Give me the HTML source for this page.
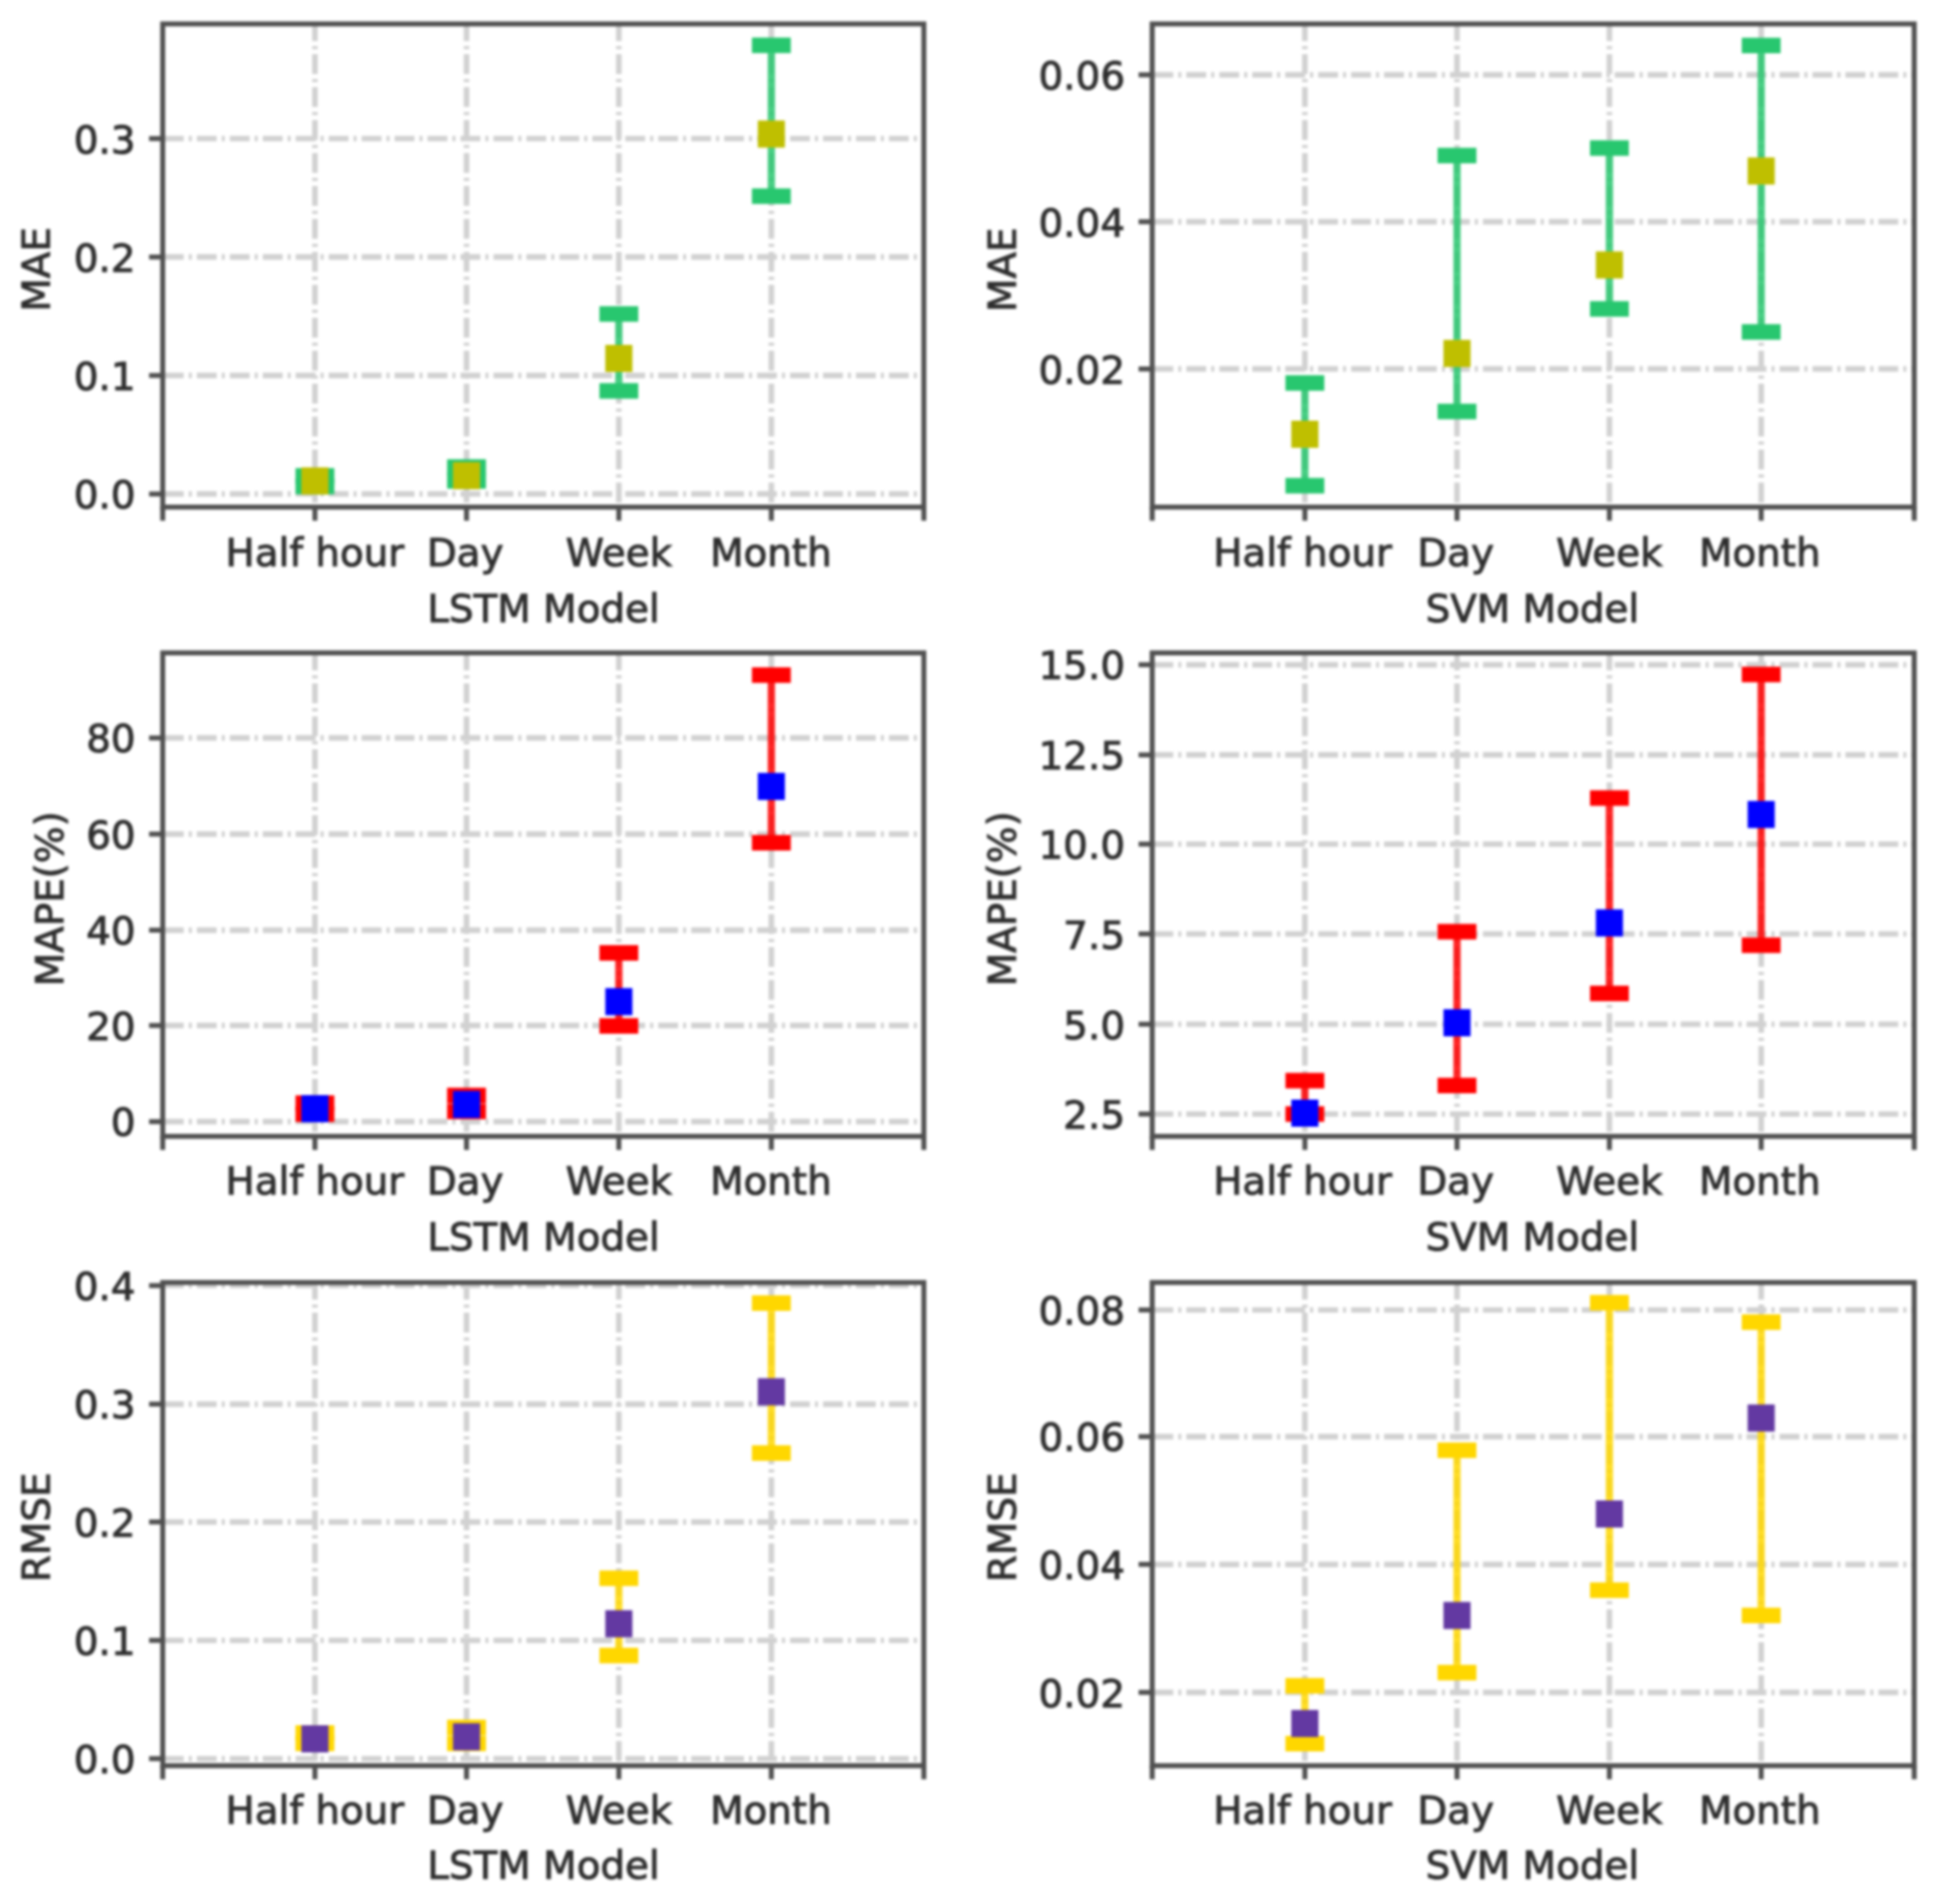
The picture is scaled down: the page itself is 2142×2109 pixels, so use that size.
<!DOCTYPE html>
<html lang="en"><head><meta charset="utf-8"><title>Model error comparison</title>
<style>
html,body{margin:0;padding:0;background:#fff}
body{width:2142px;height:2109px;overflow:hidden}
svg{display:block;filter:blur(1.6px)}
text{font-family:"DejaVu Sans","Liberation Sans",sans-serif;font-size:43.0px;fill:#2e2e2e;stroke:#2e2e2e;stroke-width:1.0}
.sp{stroke:#505050;stroke-width:5.5;fill:none;stroke-linecap:square}
.tk{stroke:#505050;stroke-width:5.5;stroke-linecap:butt}
.gr{stroke:#d1d1d1;stroke-width:6.2;stroke-dasharray:22.04 5.51 3.44 5.51;fill:none}
</style></head><body>
<svg width="2142" height="2109" viewBox="0 0 2142 2109">
<rect width="2142" height="2109" fill="#fff"/>
<g>
<path class="gr" stroke-dashoffset="-5.2" d="M348.8 561.7V26.5"/>
<path class="gr" stroke-dashoffset="-5.2" d="M516.7 561.7V26.5"/>
<path class="gr" stroke-dashoffset="-5.2" d="M685.4 561.7V26.5"/>
<path class="gr" stroke-dashoffset="-5.2" d="M854.3 561.7V26.5"/>
<path class="gr" stroke-dashoffset="-1.3" d="M180.2 547.2H1023.2"/>
<path class="gr" stroke-dashoffset="-1.3" d="M180.2 415.9H1023.2"/>
<path class="gr" stroke-dashoffset="-1.3" d="M180.2 284.7H1023.2"/>
<path class="gr" stroke-dashoffset="-1.3" d="M180.2 153.5H1023.2"/>
<path d="M348.8 527.1V538.9" stroke="#28c76f" stroke-width="8.0" stroke-opacity="0.85"/>
<rect x="327.3" y="518.5" width="43.0" height="17.2" fill="#28c76f"/>
<rect x="327.3" y="530.3" width="43.0" height="17.2" fill="#28c76f"/>
<rect x="333.8" y="517.7" width="30.0" height="30.0" fill="#bfbf00"/>
<path d="M516.7 517.3V532.7" stroke="#28c76f" stroke-width="8.0" stroke-opacity="0.85"/>
<rect x="495.2" y="508.7" width="43.0" height="17.2" fill="#28c76f"/>
<rect x="495.2" y="524.1" width="43.0" height="17.2" fill="#28c76f"/>
<rect x="501.7" y="511.9" width="30.0" height="30.0" fill="#bfbf00"/>
<path d="M685.4 347.8V433.0" stroke="#28c76f" stroke-width="8.0" stroke-opacity="0.85"/>
<rect x="663.9" y="339.2" width="43.0" height="17.2" fill="#28c76f"/>
<rect x="663.9" y="424.4" width="43.0" height="17.2" fill="#28c76f"/>
<rect x="670.4" y="382.0" width="30.0" height="30.0" fill="#bfbf00"/>
<path d="M854.3 50.2V217.3" stroke="#28c76f" stroke-width="8.0" stroke-opacity="0.85"/>
<rect x="832.8" y="41.6" width="43.0" height="17.2" fill="#28c76f"/>
<rect x="832.8" y="208.7" width="43.0" height="17.2" fill="#28c76f"/>
<rect x="839.3" y="133.5" width="30.0" height="30.0" fill="#bfbf00"/>
<rect class="sp" x="180.2" y="26.5" width="843.0" height="535.2"/>
<path class="tk" d="M180.2 561.7v15.07"/>
<path class="tk" d="M348.8 561.7v15.07"/>
<path class="tk" d="M516.7 561.7v15.07"/>
<path class="tk" d="M685.4 561.7v15.07"/>
<path class="tk" d="M854.3 561.7v15.07"/>
<path class="tk" d="M1023.2 561.7v15.07"/>
<path class="tk" d="M180.2 547.2h-15.07"/>
<text x="150.1" y="563.2" text-anchor="end">0.0</text>
<path class="tk" d="M180.2 415.9h-15.07"/>
<text x="150.1" y="431.9" text-anchor="end">0.1</text>
<path class="tk" d="M180.2 284.7h-15.07"/>
<text x="150.1" y="300.7" text-anchor="end">0.2</text>
<path class="tk" d="M180.2 153.5h-15.07"/>
<text x="150.1" y="169.5" text-anchor="end">0.3</text>
<text x="348.8" y="626.6" text-anchor="middle">Half hour</text>
<text x="515.2" y="626.6" text-anchor="middle">Day</text>
<text x="685.4" y="626.6" text-anchor="middle">Week</text>
<text x="853.8" y="626.6" text-anchor="middle">Month</text>
<text x="602.0" y="689.4" text-anchor="middle">LSTM Model</text>
<text transform="translate(55.2 298.4) rotate(-90)" text-anchor="middle">MAE</text>
</g>
<g>
<path class="gr" stroke-dashoffset="-5.2" d="M1445.2 561.7V26.5"/>
<path class="gr" stroke-dashoffset="-5.2" d="M1613.7 561.7V26.5"/>
<path class="gr" stroke-dashoffset="-5.2" d="M1782.5 561.7V26.5"/>
<path class="gr" stroke-dashoffset="-5.2" d="M1950.6 561.7V26.5"/>
<path class="gr" stroke-dashoffset="-1.3" d="M1276.1 408.7H2120.1"/>
<path class="gr" stroke-dashoffset="-1.3" d="M1276.1 245.6H2120.1"/>
<path class="gr" stroke-dashoffset="-1.3" d="M1276.1 82.9H2120.1"/>
<path d="M1445.2 424.2V538.0" stroke="#28c76f" stroke-width="8.0" stroke-opacity="0.85"/>
<rect x="1423.7" y="415.6" width="43.0" height="17.2" fill="#28c76f"/>
<rect x="1423.7" y="529.4" width="43.0" height="17.2" fill="#28c76f"/>
<rect x="1430.2" y="466.0" width="30.0" height="30.0" fill="#bfbf00"/>
<path d="M1613.7 172.3V455.8" stroke="#28c76f" stroke-width="8.0" stroke-opacity="0.85"/>
<rect x="1592.2" y="163.7" width="43.0" height="17.2" fill="#28c76f"/>
<rect x="1592.2" y="447.2" width="43.0" height="17.2" fill="#28c76f"/>
<rect x="1598.7" y="376.5" width="30.0" height="30.0" fill="#bfbf00"/>
<path d="M1782.5 164.0V342.2" stroke="#28c76f" stroke-width="8.0" stroke-opacity="0.85"/>
<rect x="1761.0" y="155.4" width="43.0" height="17.2" fill="#28c76f"/>
<rect x="1761.0" y="333.6" width="43.0" height="17.2" fill="#28c76f"/>
<rect x="1767.5" y="278.5" width="30.0" height="30.0" fill="#bfbf00"/>
<path d="M1950.6 50.4V367.7" stroke="#28c76f" stroke-width="8.0" stroke-opacity="0.85"/>
<rect x="1929.1" y="41.8" width="43.0" height="17.2" fill="#28c76f"/>
<rect x="1929.1" y="359.1" width="43.0" height="17.2" fill="#28c76f"/>
<rect x="1935.6" y="174.4" width="30.0" height="30.0" fill="#bfbf00"/>
<rect class="sp" x="1276.1" y="26.5" width="844.0" height="535.2"/>
<path class="tk" d="M1276.1 561.7v15.07"/>
<path class="tk" d="M1445.2 561.7v15.07"/>
<path class="tk" d="M1613.7 561.7v15.07"/>
<path class="tk" d="M1782.5 561.7v15.07"/>
<path class="tk" d="M1950.6 561.7v15.07"/>
<path class="tk" d="M2120.1 561.7v15.07"/>
<path class="tk" d="M1276.1 408.7h-15.07"/>
<text x="1246.0" y="424.7" text-anchor="end">0.02</text>
<path class="tk" d="M1276.1 245.6h-15.07"/>
<text x="1246.0" y="261.6" text-anchor="end">0.04</text>
<path class="tk" d="M1276.1 82.9h-15.07"/>
<text x="1246.0" y="98.9" text-anchor="end">0.06</text>
<text x="1442.7" y="626.6" text-anchor="middle">Half hour</text>
<text x="1612.2" y="626.6" text-anchor="middle">Day</text>
<text x="1782.5" y="626.6" text-anchor="middle">Week</text>
<text x="1949.1" y="626.6" text-anchor="middle">Month</text>
<text x="1697.2" y="689.4" text-anchor="middle">SVM Model</text>
<text transform="translate(1124.8 298.8) rotate(-90)" text-anchor="middle">MAE</text>
</g>
<g>
<path class="gr" stroke-dashoffset="-5.2" d="M348.8 1258.7V723.2"/>
<path class="gr" stroke-dashoffset="-5.2" d="M516.7 1258.7V723.2"/>
<path class="gr" stroke-dashoffset="-5.2" d="M685.4 1258.7V723.2"/>
<path class="gr" stroke-dashoffset="-5.2" d="M854.3 1258.7V723.2"/>
<path class="gr" stroke-dashoffset="-1.3" d="M180.2 1242.4H1023.2"/>
<path class="gr" stroke-dashoffset="-1.3" d="M180.2 1135.9H1023.2"/>
<path class="gr" stroke-dashoffset="-1.3" d="M180.2 1030.3H1023.2"/>
<path class="gr" stroke-dashoffset="-1.3" d="M180.2 923.9H1023.2"/>
<path class="gr" stroke-dashoffset="-1.3" d="M180.2 817.4H1023.2"/>
<path d="M348.8 1221.9V1234.2" stroke="#ff0000" stroke-width="8.0" stroke-opacity="0.85"/>
<rect x="327.3" y="1213.3" width="43.0" height="17.2" fill="#ff0000"/>
<rect x="327.3" y="1225.6" width="43.0" height="17.2" fill="#ff0000"/>
<rect x="333.8" y="1213.1" width="30.0" height="30.0" fill="#0000ff"/>
<path d="M516.7 1213.4V1231.1" stroke="#ff0000" stroke-width="8.0" stroke-opacity="0.85"/>
<rect x="495.2" y="1204.8" width="43.0" height="17.2" fill="#ff0000"/>
<rect x="495.2" y="1222.5" width="43.0" height="17.2" fill="#ff0000"/>
<rect x="501.7" y="1208.4" width="30.0" height="30.0" fill="#0000ff"/>
<path d="M685.4 1055.5V1136.4" stroke="#ff0000" stroke-width="8.0" stroke-opacity="0.85"/>
<rect x="663.9" y="1046.9" width="43.0" height="17.2" fill="#ff0000"/>
<rect x="663.9" y="1127.8" width="43.0" height="17.2" fill="#ff0000"/>
<rect x="670.4" y="1094.5" width="30.0" height="30.0" fill="#0000ff"/>
<path d="M854.3 747.8V933.5" stroke="#ff0000" stroke-width="8.0" stroke-opacity="0.85"/>
<rect x="832.8" y="739.2" width="43.0" height="17.2" fill="#ff0000"/>
<rect x="832.8" y="924.9" width="43.0" height="17.2" fill="#ff0000"/>
<rect x="839.3" y="856.1" width="30.0" height="30.0" fill="#0000ff"/>
<rect class="sp" x="180.2" y="723.2" width="843.0" height="535.5"/>
<path class="tk" d="M180.2 1258.7v15.07"/>
<path class="tk" d="M348.8 1258.7v15.07"/>
<path class="tk" d="M516.7 1258.7v15.07"/>
<path class="tk" d="M685.4 1258.7v15.07"/>
<path class="tk" d="M854.3 1258.7v15.07"/>
<path class="tk" d="M1023.2 1258.7v15.07"/>
<path class="tk" d="M180.2 1242.4h-15.07"/>
<text x="150.1" y="1258.4" text-anchor="end">0</text>
<path class="tk" d="M180.2 1135.9h-15.07"/>
<text x="150.1" y="1151.9" text-anchor="end">20</text>
<path class="tk" d="M180.2 1030.3h-15.07"/>
<text x="150.1" y="1046.3" text-anchor="end">40</text>
<path class="tk" d="M180.2 923.9h-15.07"/>
<text x="150.1" y="939.9" text-anchor="end">60</text>
<path class="tk" d="M180.2 817.4h-15.07"/>
<text x="150.1" y="833.4" text-anchor="end">80</text>
<text x="348.8" y="1323.0" text-anchor="middle">Half hour</text>
<text x="515.2" y="1323.0" text-anchor="middle">Day</text>
<text x="685.4" y="1323.0" text-anchor="middle">Week</text>
<text x="853.8" y="1323.0" text-anchor="middle">Month</text>
<text x="602.0" y="1385.2" text-anchor="middle">LSTM Model</text>
<text transform="translate(69.8 995.5) rotate(-90)" text-anchor="middle">MAPE(%)</text>
</g>
<g>
<path class="gr" stroke-dashoffset="-5.2" d="M1445.2 1258.7V723.2"/>
<path class="gr" stroke-dashoffset="-5.2" d="M1613.7 1258.7V723.2"/>
<path class="gr" stroke-dashoffset="-5.2" d="M1782.5 1258.7V723.2"/>
<path class="gr" stroke-dashoffset="-5.2" d="M1950.6 1258.7V723.2"/>
<path class="gr" stroke-dashoffset="-1.3" d="M1276.1 1234.0H2120.1"/>
<path class="gr" stroke-dashoffset="-1.3" d="M1276.1 1134.5H2120.1"/>
<path class="gr" stroke-dashoffset="-1.3" d="M1276.1 1034.5H2120.1"/>
<path class="gr" stroke-dashoffset="-1.3" d="M1276.1 935.0H2120.1"/>
<path class="gr" stroke-dashoffset="-1.3" d="M1276.1 836.2H2120.1"/>
<path class="gr" stroke-dashoffset="-1.3" d="M1276.1 736.3H2120.1"/>
<path d="M1445.2 1197.0V1234.0" stroke="#ff0000" stroke-width="8.0" stroke-opacity="0.85"/>
<rect x="1423.7" y="1188.4" width="43.0" height="17.2" fill="#ff0000"/>
<rect x="1423.7" y="1225.4" width="43.0" height="17.2" fill="#ff0000"/>
<rect x="1430.2" y="1218.0" width="30.0" height="30.0" fill="#0000ff"/>
<path d="M1613.7 1032.0V1202.4" stroke="#ff0000" stroke-width="8.0" stroke-opacity="0.85"/>
<rect x="1592.2" y="1023.4" width="43.0" height="17.2" fill="#ff0000"/>
<rect x="1592.2" y="1193.8" width="43.0" height="17.2" fill="#ff0000"/>
<rect x="1598.7" y="1117.9" width="30.0" height="30.0" fill="#0000ff"/>
<path d="M1782.5 884.0V1100.4" stroke="#ff0000" stroke-width="8.0" stroke-opacity="0.85"/>
<rect x="1761.0" y="875.4" width="43.0" height="17.2" fill="#ff0000"/>
<rect x="1761.0" y="1091.8" width="43.0" height="17.2" fill="#ff0000"/>
<rect x="1767.5" y="1007.3" width="30.0" height="30.0" fill="#0000ff"/>
<path d="M1950.6 747.1V1047.0" stroke="#ff0000" stroke-width="8.0" stroke-opacity="0.85"/>
<rect x="1929.1" y="738.5" width="43.0" height="17.2" fill="#ff0000"/>
<rect x="1929.1" y="1038.4" width="43.0" height="17.2" fill="#ff0000"/>
<rect x="1935.6" y="887.2" width="30.0" height="30.0" fill="#0000ff"/>
<rect class="sp" x="1276.1" y="723.2" width="844.0" height="535.5"/>
<path class="tk" d="M1276.1 1258.7v15.07"/>
<path class="tk" d="M1445.2 1258.7v15.07"/>
<path class="tk" d="M1613.7 1258.7v15.07"/>
<path class="tk" d="M1782.5 1258.7v15.07"/>
<path class="tk" d="M1950.6 1258.7v15.07"/>
<path class="tk" d="M2120.1 1258.7v15.07"/>
<path class="tk" d="M1276.1 1234.0h-15.07"/>
<text x="1246.0" y="1250.0" text-anchor="end">2.5</text>
<path class="tk" d="M1276.1 1134.5h-15.07"/>
<text x="1246.0" y="1150.5" text-anchor="end">5.0</text>
<path class="tk" d="M1276.1 1034.5h-15.07"/>
<text x="1246.0" y="1050.5" text-anchor="end">7.5</text>
<path class="tk" d="M1276.1 935.0h-15.07"/>
<text x="1246.0" y="951.0" text-anchor="end">10.0</text>
<path class="tk" d="M1276.1 836.2h-15.07"/>
<text x="1246.0" y="852.2" text-anchor="end">12.5</text>
<path class="tk" d="M1276.1 736.3h-15.07"/>
<text x="1246.0" y="752.3" text-anchor="end">15.0</text>
<text x="1442.7" y="1323.0" text-anchor="middle">Half hour</text>
<text x="1612.2" y="1323.0" text-anchor="middle">Day</text>
<text x="1782.5" y="1323.0" text-anchor="middle">Week</text>
<text x="1949.1" y="1323.0" text-anchor="middle">Month</text>
<text x="1697.2" y="1385.2" text-anchor="middle">SVM Model</text>
<text transform="translate(1124.9 995.5) rotate(-90)" text-anchor="middle">MAPE(%)</text>
</g>
<g>
<path class="gr" stroke-dashoffset="-5.2" d="M348.8 1955.8V1420.6"/>
<path class="gr" stroke-dashoffset="-5.2" d="M516.7 1955.8V1420.6"/>
<path class="gr" stroke-dashoffset="-5.2" d="M685.4 1955.8V1420.6"/>
<path class="gr" stroke-dashoffset="-5.2" d="M854.3 1955.8V1420.6"/>
<path class="gr" stroke-dashoffset="-1.3" d="M180.2 1948.0H1023.2"/>
<path class="gr" stroke-dashoffset="-1.3" d="M180.2 1817.0H1023.2"/>
<path class="gr" stroke-dashoffset="-1.3" d="M180.2 1685.8H1023.2"/>
<path class="gr" stroke-dashoffset="-1.3" d="M180.2 1555.3H1023.2"/>
<path class="gr" stroke-dashoffset="-1.3" d="M180.2 1424.0H1023.2"/>
<path d="M348.8 1919.6V1931.1" stroke="#ffd700" stroke-width="8.0" stroke-opacity="0.85"/>
<rect x="327.3" y="1911.0" width="43.0" height="17.2" fill="#ffd700"/>
<rect x="327.3" y="1922.5" width="43.0" height="17.2" fill="#ffd700"/>
<rect x="333.8" y="1911.1" width="30.0" height="30.0" fill="#6339a2"/>
<path d="M516.7 1913.4V1931.1" stroke="#ffd700" stroke-width="8.0" stroke-opacity="0.85"/>
<rect x="495.2" y="1904.8" width="43.0" height="17.2" fill="#ffd700"/>
<rect x="495.2" y="1922.5" width="43.0" height="17.2" fill="#ffd700"/>
<rect x="501.7" y="1908.8" width="30.0" height="30.0" fill="#6339a2"/>
<path d="M685.4 1748.2V1833.8" stroke="#ffd700" stroke-width="8.0" stroke-opacity="0.85"/>
<rect x="663.9" y="1739.6" width="43.0" height="17.2" fill="#ffd700"/>
<rect x="663.9" y="1825.2" width="43.0" height="17.2" fill="#ffd700"/>
<rect x="670.4" y="1783.6" width="30.0" height="30.0" fill="#6339a2"/>
<path d="M854.3 1443.4V1609.5" stroke="#ffd700" stroke-width="8.0" stroke-opacity="0.85"/>
<rect x="832.8" y="1434.8" width="43.0" height="17.2" fill="#ffd700"/>
<rect x="832.8" y="1600.9" width="43.0" height="17.2" fill="#ffd700"/>
<rect x="839.3" y="1526.6" width="30.0" height="30.0" fill="#6339a2"/>
<rect class="sp" x="180.2" y="1420.6" width="843.0" height="535.2"/>
<path class="tk" d="M180.2 1955.8v15.07"/>
<path class="tk" d="M348.8 1955.8v15.07"/>
<path class="tk" d="M516.7 1955.8v15.07"/>
<path class="tk" d="M685.4 1955.8v15.07"/>
<path class="tk" d="M854.3 1955.8v15.07"/>
<path class="tk" d="M1023.2 1955.8v15.07"/>
<path class="tk" d="M180.2 1948.0h-15.07"/>
<text x="150.1" y="1964.0" text-anchor="end">0.0</text>
<path class="tk" d="M180.2 1817.0h-15.07"/>
<text x="150.1" y="1833.0" text-anchor="end">0.1</text>
<path class="tk" d="M180.2 1685.8h-15.07"/>
<text x="150.1" y="1701.8" text-anchor="end">0.2</text>
<path class="tk" d="M180.2 1555.3h-15.07"/>
<text x="150.1" y="1571.3" text-anchor="end">0.3</text>
<path class="tk" d="M180.2 1424.0h-15.07"/>
<text x="150.1" y="1440.0" text-anchor="end">0.4</text>
<text x="348.8" y="2020.0" text-anchor="middle">Half hour</text>
<text x="515.2" y="2020.0" text-anchor="middle">Day</text>
<text x="685.4" y="2020.0" text-anchor="middle">Week</text>
<text x="853.8" y="2020.0" text-anchor="middle">Month</text>
<text x="602.0" y="2081.4" text-anchor="middle">LSTM Model</text>
<text transform="translate(55.2 1691.8) rotate(-90)" text-anchor="middle">RMSE</text>
</g>
<g>
<path class="gr" stroke-dashoffset="-5.2" d="M1445.2 1955.8V1420.6"/>
<path class="gr" stroke-dashoffset="-5.2" d="M1613.7 1955.8V1420.6"/>
<path class="gr" stroke-dashoffset="-5.2" d="M1782.5 1955.8V1420.6"/>
<path class="gr" stroke-dashoffset="-5.2" d="M1950.6 1955.8V1420.6"/>
<path class="gr" stroke-dashoffset="-1.3" d="M1276.1 1874.6H2120.1"/>
<path class="gr" stroke-dashoffset="-1.3" d="M1276.1 1732.8H2120.1"/>
<path class="gr" stroke-dashoffset="-1.3" d="M1276.1 1591.3H2120.1"/>
<path class="gr" stroke-dashoffset="-1.3" d="M1276.1 1451.0H2120.1"/>
<path d="M1445.2 1867.3V1931.4" stroke="#ffd700" stroke-width="8.0" stroke-opacity="0.85"/>
<rect x="1423.7" y="1858.7" width="43.0" height="17.2" fill="#ffd700"/>
<rect x="1423.7" y="1922.8" width="43.0" height="17.2" fill="#ffd700"/>
<rect x="1430.2" y="1894.1" width="30.0" height="30.0" fill="#6339a2"/>
<path d="M1613.7 1606.4V1852.7" stroke="#ffd700" stroke-width="8.0" stroke-opacity="0.85"/>
<rect x="1592.2" y="1597.8" width="43.0" height="17.2" fill="#ffd700"/>
<rect x="1592.2" y="1844.1" width="43.0" height="17.2" fill="#ffd700"/>
<rect x="1598.7" y="1774.4" width="30.0" height="30.0" fill="#6339a2"/>
<path d="M1782.5 1443.0V1761.4" stroke="#ffd700" stroke-width="8.0" stroke-opacity="0.85"/>
<rect x="1761.0" y="1434.4" width="43.0" height="17.2" fill="#ffd700"/>
<rect x="1761.0" y="1752.8" width="43.0" height="17.2" fill="#ffd700"/>
<rect x="1767.5" y="1662.0" width="30.0" height="30.0" fill="#6339a2"/>
<path d="M1950.6 1464.5V1789.4" stroke="#ffd700" stroke-width="8.0" stroke-opacity="0.85"/>
<rect x="1929.1" y="1455.9" width="43.0" height="17.2" fill="#ffd700"/>
<rect x="1929.1" y="1780.8" width="43.0" height="17.2" fill="#ffd700"/>
<rect x="1935.6" y="1555.7" width="30.0" height="30.0" fill="#6339a2"/>
<rect class="sp" x="1276.1" y="1420.6" width="844.0" height="535.2"/>
<path class="tk" d="M1276.1 1955.8v15.07"/>
<path class="tk" d="M1445.2 1955.8v15.07"/>
<path class="tk" d="M1613.7 1955.8v15.07"/>
<path class="tk" d="M1782.5 1955.8v15.07"/>
<path class="tk" d="M1950.6 1955.8v15.07"/>
<path class="tk" d="M2120.1 1955.8v15.07"/>
<path class="tk" d="M1276.1 1874.6h-15.07"/>
<text x="1246.0" y="1890.6" text-anchor="end">0.02</text>
<path class="tk" d="M1276.1 1732.8h-15.07"/>
<text x="1246.0" y="1748.8" text-anchor="end">0.04</text>
<path class="tk" d="M1276.1 1591.3h-15.07"/>
<text x="1246.0" y="1607.3" text-anchor="end">0.06</text>
<path class="tk" d="M1276.1 1451.0h-15.07"/>
<text x="1246.0" y="1467.0" text-anchor="end">0.08</text>
<text x="1442.7" y="2020.0" text-anchor="middle">Half hour</text>
<text x="1612.2" y="2020.0" text-anchor="middle">Day</text>
<text x="1782.5" y="2020.0" text-anchor="middle">Week</text>
<text x="1949.1" y="2020.0" text-anchor="middle">Month</text>
<text x="1697.2" y="2081.4" text-anchor="middle">SVM Model</text>
<text transform="translate(1124.8 1691.8) rotate(-90)" text-anchor="middle">RMSE</text>
</g>
</svg>
</body></html>
